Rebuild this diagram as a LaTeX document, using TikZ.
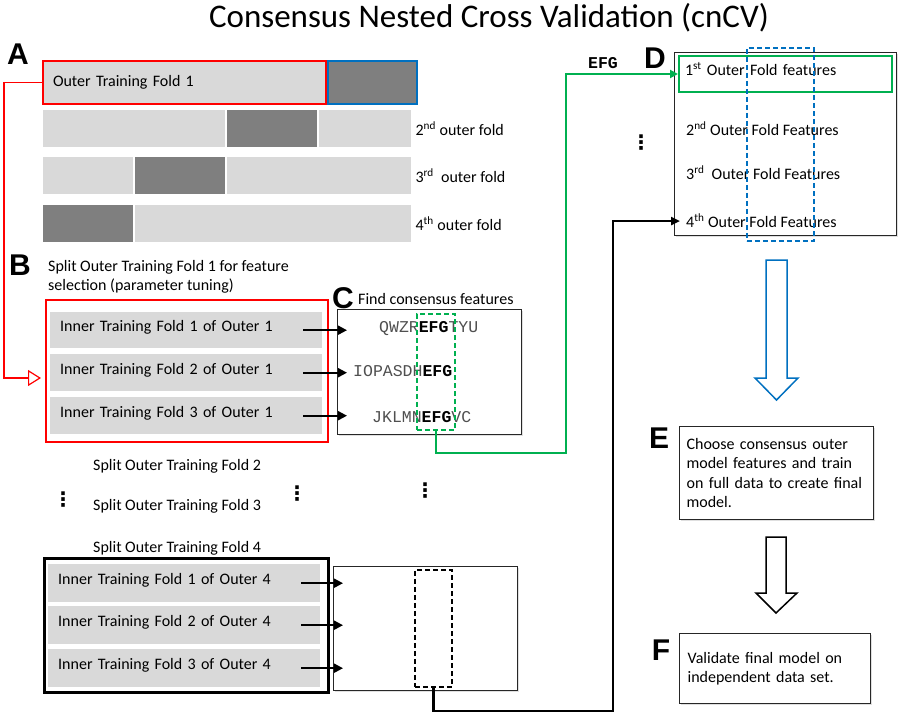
\documentclass[tikz,border=0pt]{standalone}
\usepackage{fontspec}
\setmainfont{Carlito}
\newfontfamily\letterfont{Liberation Sans}
\newfontfamily\seqfont{Liberation Mono}
\newfontfamily\dotsfont{DejaVu Sans}
\usepackage{tikz}
\usetikzlibrary{positioning,arrows.meta,shadows,calc}
\definecolor{foldlight}{HTML}{D9D9D9}
\definecolor{folddark}{HTML}{7F7F7F}
\definecolor{selred}{HTML}{FF0000}
\definecolor{selblue}{HTML}{0070C0}
\definecolor{selgreen}{HTML}{00B050}
\definecolor{seqgray}{HTML}{505050}
\newcommand{\panel}[1]{{\fontsize{30}{30}\selectfont\letterfont\bfseries #1}}
\newcommand{\seqrow}[3]{{\seqfont\fontsize{16.5}{18}\selectfont\color{seqgray}#1{\bfseries\color{black}#2}#3}}
\newcommand{\vdotmark}{{\dotsfont\fontsize{20}{20}\selectfont\bfseries ⋮}}

\begin{document}
\begin{tikzpicture}[x=1pt,y=-1pt,
                    font=\fontsize{16}{19.5}\selectfont]
  \tikzstyle{fold}=[fill=foldlight, inner sep=0pt, anchor=north west, minimum height=37pt]
  \tikzstyle{testfold}=[fold, fill=folddark]
  \tikzstyle{innerrow}=[fill=foldlight, anchor=north west, inner xsep=10pt, inner ysep=0pt,
                        text width=252pt, align=left, text height=12pt, text depth=9pt]
  \tikzstyle{boxframe}=[draw=black!85, line width=1.2pt, fill=white, anchor=north west,
                        drop shadow={shadow xshift=1.5pt, shadow yshift=-1.5pt, opacity=0.25}]
  \tikzstyle{pickbox}=[anchor=north west, dash pattern=on 5pt off 3pt, line width=1.5pt]
  \tikzstyle{notetext}=[anchor=west, inner sep=2pt]
  \tikzstyle{feat}=[line width=2pt, -{Triangle[length=9pt,width=9pt]}]
  \tikzstyle{dotmark}=[inner sep=0pt]
  \useasboundingbox (0,0) rectangle (900,718);

  \node (title) at (489,18) {\fontsize{33}{40}\selectfont Consensus Nested Cross Validation (cnCV)};

  % A: outer folds
  \node (A) at (18,54) {\panel{A}};
  \node[fold, draw=selred, line width=2pt, inner xsep=10pt, text width=263pt, align=left,
        minimum height=43pt] (OT1) at (42,60) {Outer Training Fold 1};
  \node[testfold, draw=selblue, line width=2pt, minimum width=89pt, minimum height=43pt] (T1) at (327,60) {};
  \node[fold, minimum width=182pt] (F2a) at (43,110) {};
  \node[testfold, minimum width=90pt] (F2b) at (227,110) {};
  \node[fold, minimum width=92pt] (F2c) at (319,110) {};
  \node[fold, minimum width=90pt] (F3a) at (43,157) {};
  \node[testfold, minimum width=90pt] (F3b) at (135,157) {};
  \node[fold, minimum width=184pt] (F3c) at (227,157) {};
  \node[testfold, minimum width=90pt] (F4a) at (43,205) {};
  \node[fold, minimum width=276pt] (F4b) at (135,205) {};
  \node[notetext] (L2) [right=2pt of F2c] {2\textsuperscript{nd} outer fold};
  \node[notetext] (L3) [right=2pt of F3c] {3\textsuperscript{rd}\ \ outer fold};
  \node[notetext] (L4) [right=2pt of F4b] {4\textsuperscript{th} outer fold};

  % B: inner folds of outer 1
  \node (B) at (20,265) {\panel{B}};
  \node[notetext, align=left] (Bt) at (46,277) {Split Outer Training Fold 1 for feature\\selection (parameter tuning)};
  \node[anchor=north west, draw=selred, line width=2pt, minimum width=282pt, minimum height=142pt] (IB) at (45,299) {};
  \node[innerrow, minimum height=36pt] (I1) at (50,312) {Inner Training Fold 1 of Outer 1};
  \node[innerrow, minimum height=37pt] (I2) at (50,354) {Inner Training Fold 2 of Outer 1};
  \node[innerrow, minimum height=37pt] (I3) at (50,397) {Inner Training Fold 3 of Outer 1};

  % C: consensus
  \node (C) at (343,298) {\panel{C}};
  \node[notetext] (Ct) at (356,299) {Find consensus features};
  \node[boxframe, minimum width=184pt, minimum height=125pt] (cC) at (337,309) {};
  \node[anchor=base west, inner sep=0pt] (S1) at (379,332) {\seqrow{QWZR}{EFG}{TYU}};
  \node[anchor=base west, inner sep=0pt] (S2) at (353,376) {\seqrow{IOPASDH}{EFG}{}};
  \node[anchor=base west, inner sep=0pt] (S3) at (372,422) {\seqrow{JKLMN}{EFG}{VC}};
  \node[pickbox, draw=selgreen, minimum width=38pt, minimum height=116pt] (gsel) at (416,313) {};
  \draw[feat] ([xshift=-19pt]I1.east) -- ($(cC.west |- I1.east)+(10,0)$);
  \draw[feat] ([xshift=-19pt]I2.east) -- ($(cC.west |- I2.east)+(10,0)$);
  \draw[feat] ([xshift=-19pt]I3.east) -- ($(cC.west |- I3.east)+(10,0)$);

  \coordinate (rk) at (4,378);
  \draw[selred, line width=1.2pt, -{Triangle[length=13pt,width=16pt,fill=white]}]
    (OT1.west) -| (rk) -- ($(IB.west |- rk)+(-4,0)$);

  % D: outer fold features
  \node (D) at (655,58) {\panel{D}};
  \node[boxframe, minimum width=222pt, minimum height=183pt] (dBox) at (674,52) {};
  \node[anchor=north west, draw=selgreen, line width=2pt, inner xsep=6pt, inner ysep=0pt, text width=201pt,
        align=left, minimum height=36pt, text height=12pt, text depth=9pt] (d1) at (678,55) {1\textsuperscript{st} Outer Fold features};
  \node[notetext, inner xsep=6pt] (d2) at (680,129) {2\textsuperscript{nd} Outer Fold Features};
  \node[notetext, inner xsep=6pt] (d3) at (680,173) {3\textsuperscript{rd}\ \ Outer Fold Features};
  \node[notetext, inner xsep=6pt] (d4) at (680,221) {4\textsuperscript{th} Outer Fold Features};
  \node[pickbox, draw=selblue, minimum width=67pt, minimum height=193pt] (bsel) at (746,47) {};
  \node[dotmark] (dotsD) at (641,143) {\vdotmark};
  \node (efg) at (603,63) {\seqfont\fontsize{16.5}{18}\selectfont\bfseries EFG};

  \coordinate (gk) at (566,453);
  \draw[selgreen, line width=2pt, -{Triangle[length=8pt,width=8pt]}] (gsel.south) |- (gk) |- (d1.west);

  % remaining outer folds
  \node[notetext] (Sp2) at (91,466) {Split Outer Training Fold 2};
  \node[notetext] (Sp3) at (91,506) {Split Outer Training Fold 3};
  \node[notetext] (Sp4) at (91,548) {Split Outer Training Fold 4};
  \node[dotmark] (dots1) at (63,500) {\vdotmark};
  \node[dotmark] (dots2) at (297,494) {\vdotmark};
  \node[dotmark] (dots3) at (425,491) {\vdotmark};

  \node[boxframe, draw=black, line width=2.5pt, minimum width=284pt, minimum height=134pt] (OB4) at (43,557) {};
  \node[innerrow, minimum height=38pt] (J1) at (48,564) {Inner Training Fold 1 of Outer 4};
  \node[innerrow, minimum height=38pt] (J2) at (48,606) {Inner Training Fold 2 of Outer 4};
  \node[innerrow, minimum height=38pt] (J3) at (48,649) {Inner Training Fold 3 of Outer 4};
  \node[boxframe, minimum width=184pt, minimum height=124pt] (cC4) at (333,566) {};
  \node[pickbox, draw=black, minimum width=37pt, minimum height=117pt] (ksel) at (414,569) {};
  \draw[feat] ([xshift=-19pt]J1.east) -- ($(cC4.west |- J1.east)+(10,0)$);
  \draw[feat] ([xshift=-19pt]J2.east) -- ($(cC4.west |- J2.east)+(10,0)$);
  \draw[feat] ([xshift=-19pt]J3.east) -- ($(cC4.west |- J3.east)+(10,0)$);

  \coordinate (kk) at (613,711);
  \draw[line width=2.5pt, -{Triangle[length=9pt,width=8pt]}] (ksel.south) |- (kk) |- (d4.west);

  % E, F: final model
  \draw[selblue, fill=white, line width=1.5pt] (766,260) -- (787,260) -- (787,378) -- (798,378)
    -- (776.5,400) -- (755,378) -- (766,378) -- cycle;
  \node (E) at (659,438) {\panel{E}};
  \node[boxframe, inner xsep=7pt, text width=180pt, align=left, minimum height=93pt] (eBox) at (679,426)
    {Choose consensus outer\\model features and train\\on full data to create final\\model.};
  \draw[black, fill=white, line width=1.5pt] (766,537) -- (786,537) -- (786,593) -- (797,593)
    -- (776,613) -- (756,593) -- (766,593) -- cycle;
  \node (F) at (661,650) {\panel{F}};
  \node[boxframe, inner xsep=8pt, text width=175pt, align=left, minimum height=70pt] (fBox) at (679,633)
    {Validate final model on\\independent data set.};

\end{tikzpicture}
\end{document}
